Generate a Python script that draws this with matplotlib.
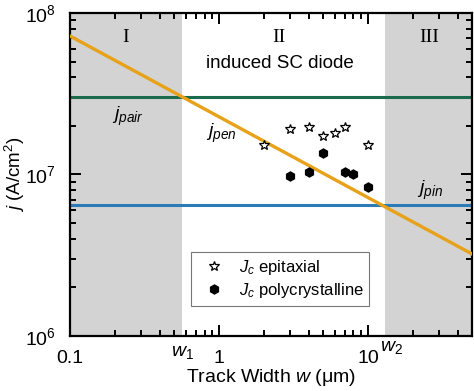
import matplotlib
matplotlib.use("Agg")
import matplotlib.pyplot as plt
from matplotlib.ticker import FixedLocator, LogLocator, NullFormatter

plt.rcParams["font.family"] = ["Liberation Sans", "DejaVu Sans"]
plt.rcParams["mathtext.fontset"] = "custom"
plt.rcParams["mathtext.rm"] = "Liberation Sans"
plt.rcParams["mathtext.it"] = "Liberation Sans:italic"

# ─── Data ────────────────────────────────────────────────────────
w_epi = [2, 3, 4, 5, 6, 7, 10]
jc_epi = [1.52e7, 1.90e7, 1.98e7, 1.73e7, 1.80e7, 1.98e7, 1.52e7]

w_poly = [3, 4, 5, 7, 8, 10]
jc_poly = [9.8e6, 1.04e7, 1.35e7, 1.04e7, 1.0e7, 8.4e6]

w_pen = [0.1, 50]
j_pen = [7.2e7, 3.22e6]

j_pair = 3.03e7
j_pin = 6.45e6

w1 = 0.565
w2 = 13.0
x_lim = [0.1, 50]
y_lim = [1e6, 1e8]

# ─── Plot ────────────────────────────────────────────────────────
fig = plt.figure(figsize=(4.74, 3.91), dpi=100)
ax = fig.add_axes([0.1477, 0.1407, 0.8481, 0.8261])
ax.set_xscale("log")
ax.set_yscale("log")
ax.set_xlim(x_lim)
ax.set_ylim(y_lim)

ax.axvspan(x_lim[0], w1, color="#d3d3d3", lw=0, zorder=0)
ax.axvspan(w2, x_lim[1], color="#d3d3d3", lw=0, zorder=0)

ax.axhline(j_pair, color="#1b6b4f", lw=2.2, zorder=2)
ax.axhline(j_pin, color="#2b7bb9", lw=2.2, zorder=2)
ax.plot(w_pen, j_pen, color="#e8a21a", lw=2.4, zorder=3)

ax.plot(w_epi, jc_epi, ls="none", marker="*", ms=7.5, mfc="white",
        mec="black", mew=0.9, label=r"$J_c$ epitaxial", zorder=4)
ax.plot(w_poly, jc_poly, ls="none", marker="h", ms=6.5, color="black",
        label=r"$J_c$ polycrystalline", zorder=4)

leg = ax.legend(loc="lower left", bbox_to_anchor=(0.301, 0.093),
                fontsize=12, frameon=True, fancybox=False,
                handletextpad=0.5, borderpad=0.35, labelspacing=0.25,
                handlelength=2.0, borderaxespad=0)
leg.get_frame().set_edgecolor("#555555")
leg.get_frame().set_linewidth(0.8)

# region labels
for x, s in [(0.235, "I"), (2.53, "II"), (25.7, "III")]:
    ax.text(x, 7.0e7, s, family="Liberation Serif", fontsize=14,
            ha="center", va="center")
ax.text(2.58, 4.9e7, "induced SC diode", fontsize=13.5,
        ha="center", va="center")

ax.text(0.245, 2.3e7, r"$j_{pair}$", fontsize=14, ha="center", va="center")
ax.text(1.03, 1.8e7, r"$j_{pen}$", fontsize=14, ha="center", va="center")
ax.text(26.0, 8.0e6, r"$j_{pin}$", fontsize=14, ha="center", va="center")

# ticks
ax.xaxis.set_major_locator(FixedLocator([0.1, 1, 10]))
ax.set_xticklabels(["0.1", "1", "10"])
ax.xaxis.set_minor_locator(LogLocator(base=10, subs=range(2, 10)))
ax.xaxis.set_minor_formatter(NullFormatter())
ax.yaxis.set_minor_locator(LogLocator(base=10, subs=range(2, 10)))
ax.yaxis.set_minor_formatter(NullFormatter())
ax.tick_params(which="both", direction="in", top=True, right=True,
               width=1.4, labelsize=14)
ax.tick_params(which="major", length=8, pad=10)
ax.tick_params(which="minor", length=4.5)
for sp in ax.spines.values():
    sp.set_linewidth(1.6)

ax.text(w1, -0.05, r"$w_1$", transform=ax.get_xaxis_transform(),
        fontsize=14, ha="center", va="center")
ax.text(14.5, -0.035, r"$w_2$", transform=ax.get_xaxis_transform(),
        fontsize=14, ha="center", va="center")

ax.set_xlabel(r"Track Width $w$ ($\mathregular{\mu}$m)", fontsize=14,
              labelpad=0)
ax.set_ylabel(r"$j$ (A/cm$^2$)", fontsize=13.5, va="center")
ax.yaxis.set_label_coords(-0.137, 0.5)

fig.savefig("out.png", dpi=100)
